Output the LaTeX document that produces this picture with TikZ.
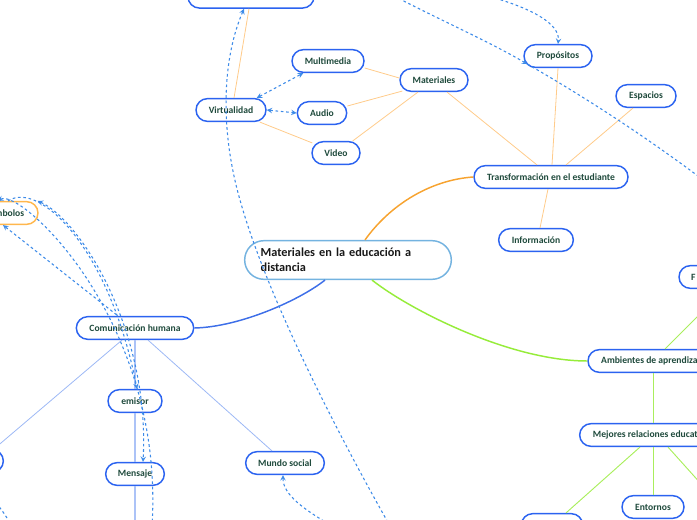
\documentclass[tikz,border=0pt]{standalone}
\usepackage{fontspec}
\setmainfont{Carlito}
\usetikzlibrary{calc}
\definecolor{nodeblue}{HTML}{2B63F0}
\definecolor{rootblue}{HTML}{74B3E0}
\definecolor{symorange}{HTML}{FFB74D}
\definecolor{txtgreen}{HTML}{1F4A3C}
\definecolor{branchorange}{HTML}{F7A330}
\definecolor{thinorange}{HTML}{FFCB8A}
\definecolor{branchblue}{HTML}{3E6FE8}
\definecolor{thinblue}{HTML}{9DB8F5}
\definecolor{branchgreen}{HTML}{96EC3A}
\definecolor{thingreen}{HTML}{A9EE5C}
\definecolor{relblue}{HTML}{3D8BE8}
\begin{document}
\begin{tikzpicture}[x=0.75pt,y=-0.75pt,>=stealth,
	topic/.style={draw=nodeblue,line width=1.1pt,fill=white,
		rounded corners=8.5pt,minimum height=17pt,inner sep=0pt,
		font=\bfseries\fontsize{7.2}{8.6}\selectfont,text=txtgreen},
	rootnode/.style={draw=rootblue,line width=1.1pt,fill=white,
		rounded corners=14.5pt,minimum height=29pt,minimum width=155pt,
		text width=131pt,align=left,inner sep=0pt,
		font=\bfseries\fontsize{9.2}{11}\selectfont,text=black!90},
	orangeline/.style={thinorange,line width=0.6pt},
	blueline/.style={thinblue,line width=0.6pt},
	stemline/.style={thinblue!85,line width=1.5pt},
	greenline/.style={thingreen,line width=0.7pt},
	rel/.style={relblue,line width=0.8pt,dash pattern=on 2pt off 2pt}]
\useasboundingbox (0,0) rectangle (697,520);
\clip (0,0) rectangle (697,520);

% nodes
\node[rootnode] (root) at (348,260) {Materiales en la educación a\\distancia};
\node[topic,minimum width=94.5pt] (vtop) at (251,-3.3) {};
\node[topic,minimum width=54pt] (multi) at (328,61) {Multimedia};
\node[topic,minimum width=52.5pt] (virt) at (231,110) {Virtualidad};
\node[topic,minimum width=37pt] (audio) at (322,113) {Audio};
\node[topic,minimum width=36pt] (video) at (336,153) {Video};
\node[topic,minimum width=51pt] (mat) at (434,80) {Materiales};
\node[topic,minimum width=51pt] (prop) at (558,56) {Propósitos};
\node[topic,minimum width=45pt] (esp) at (646,96) {Espacios};
\node[topic,minimum width=115.5pt] (trans) at (551,177) {Transformación en el estudiante};
\node[topic,minimum width=56pt] (info) at (536,240) {Información};
\node[topic,draw=symorange,minimum width=48pt] (simb) at (6,213) {Símbolos};
\node[topic,minimum width=88pt] (comu) at (135,328) {Comunicación humana};
\node[topic,minimum width=40.5pt] (emi) at (135,401) {emisor};
\node[topic,minimum width=44pt] (mens) at (135,474) {Mensaje};
\node[topic,minimum width=59pt] (mundo) at (285,463) {Mundo social};
\node[topic,minimum width=47pt] (lft) at (-28,461) {};
\node[topic,minimum width=97.5pt] (amb) at (653,361) {Ambientes de aprendizaje};
\node[topic,text width=60pt,align=left,inner xsep=9pt] (fnode) at (731,277) {F};
\node[topic,minimum width=110pt] (mej) at (653,435) {Mejores relaciones educativas};
\node[topic,minimum width=46.5pt] (ent) at (653,507) {Entornos};
\node[topic,minimum width=46pt] (bot) at (552,525) {};

% free ends
\coordinate (endA) at (135,525);
\coordinate (endB) at (720,505);
\coordinate (endC) at (390,526);
\coordinate (endD) at (152,526);
\coordinate (endE) at (332,526);
\coordinate (endF) at (394,-4);
\coordinate (endG) at (480,-6);
\coordinate (endH) at (702,179);
\coordinate (endI) at (-4,503);
\coordinate (endJ) at (10,523);

% main branches
\draw[branchorange,line width=1.1pt] ($(root.north)+(17,0)$) .. controls (390,205) and (430,180) .. (trans.west);
\draw[branchblue,line width=1.1pt] ($(root.south)+(-23,0)$) .. controls (300,300) and (240,327) .. (comu.east);
\draw[branchgreen,line width=1.1pt] ($(root.south)+(24,0)$) .. controls (410,310) and (510,361) .. (amb.west);

% orange sub topics
\draw[orangeline] ($(trans.north)+(-14,0)$) -- ($(mat.south)+(13,0)$);
\draw[orangeline] ($(trans.north)+(1,0)$) -- (prop.south);
\draw[orangeline] ($(trans.north)+(15,0)$) -- ($(esp.south)+(-13,0)$);
\draw[orangeline] ($(trans.south)+(-3,0)$) -- ($(info.north)+(4,0)$);
\draw[orangeline] ($(mat.west)+(0,-2)$) -- ($(multi.east)+(0,7)$);
\draw[orangeline] ($(mat.south west)+(3,-1)$) -- ($(audio.east)+(0,-7)$);
\draw[orangeline] ($(mat.south)+(-16,0)$) -- ($(video.north east)+(-8,0)$);
\draw[orangeline] ($(virt.south east)+(-7,0)$) -- ($(video.north west)+(1,2)$);
\draw[orangeline] ($(virt.north)+(3,0)$) -- ($(vtop.south)+(-2,0)$);

% blue sub topics
\draw[blueline] ($(comu.south)+(-13,0)$) -- ($(lft.north)+(22,0)$);
\draw[blueline] ($(comu.south)+(13,0)$) -- ($(mundo.north)+(-13,0)$);
\draw[stemline] (comu.south) -- (emi.north);
\draw[stemline] (emi.south) -- (mens.north);
\draw[stemline] (mens.south) -- (endA);

% green sub topics
\draw[greenline] ($(amb.north)+(12,0)$) -- ($(fnode.south)+(-6,0)$);
\draw[greenline] (amb.south) -- (mej.north);
\draw[greenline] (mej.south) -- (ent.north);
\draw[greenline] ($(mej.south)+(-13,0)$) -- ($(bot.north)+(14,0)$);
\draw[greenline] ($(mej.south)+(15,0)$) -- (endB);

% relations
\draw[rel,<->] ($(virt.north east)+(-10,0)$) -- ($(multi.south west)+(12,0)$);
\draw[rel,<->] (virt.east) -- (audio.west);
\draw[rel,<-] ($(vtop.south)+(-7,0)$) .. controls (222,60) and (220,130) .. (240,200)
	.. controls (265,290) and (330,420) .. (endC);
\draw[rel,->] (endG) .. controls (535,8) and (560,25) .. (prop.north);
\draw[rel,->] (endF) .. controls (440,20) and (490,42) .. ($(prop.south west)+(4,-4)$);
\draw[rel] ($(prop.south west)+(4,-4)$) .. controls (590,100) and (650,140) .. (endH);
\draw[rel,<-] ($(simb.south)+(-3,0)$) -- ($(comu.north)+(-17,0)$);
\draw[rel,->] ($(simb.north)+(2,0)$) .. controls (40,180) and (110,250) .. ($(emi.north)+(2,0)$);
\draw[rel,<->] ($(simb.north east)+(-1,0)$) .. controls (80,220) and (150,330) .. ($(mens.north)+(8,0)$);
\draw[rel,<-] ($(simb.north)+(-8,0)$) .. controls (20,188) and (165,320) .. (endD);
\draw[rel,<-] ($(mundo.south)+(-2,0)$) .. controls (283,495) and (305,510) .. (endE);
\draw[rel] (endI) .. controls (2,510) and (6,516) .. (endJ);
\end{tikzpicture}
\end{document}
